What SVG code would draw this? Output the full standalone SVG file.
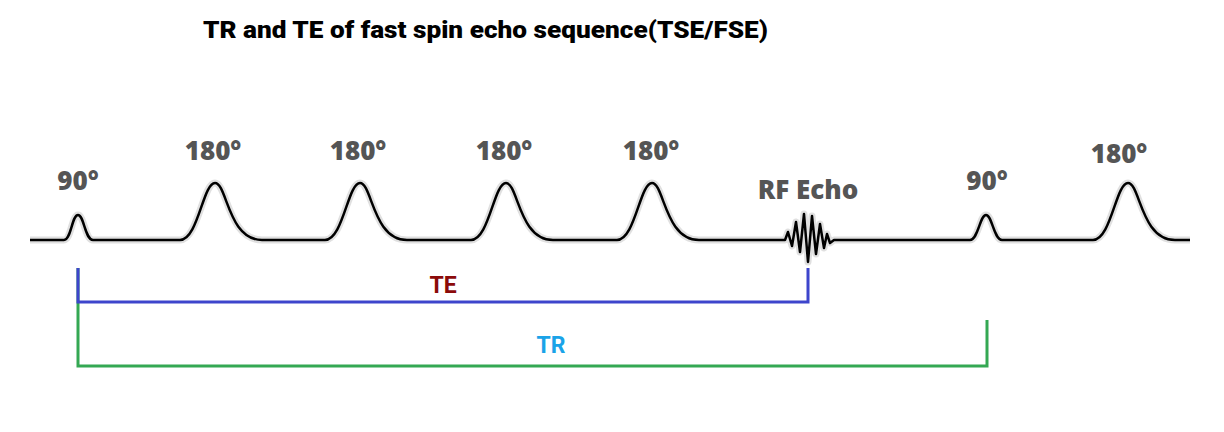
<svg xmlns="http://www.w3.org/2000/svg" width="1224" height="432" viewBox="0 0 1224 432">
<style>
.lbl{font-family:"Open Sans",sans-serif;font-weight:800;font-size:26px;fill:#555;text-anchor:middle}
.sig{fill:none;stroke:#000;stroke-width:2.5;stroke-linejoin:round}
.halo{fill:none;stroke:#ccc;stroke-width:7;stroke-linejoin:round;opacity:.6}
</style>
<rect width="1224" height="432" fill="#fff"/>
<text x="203" y="38" font-family="Roboto, sans-serif" font-weight="900" font-size="23" textLength="565" lengthAdjust="spacingAndGlyphs">TR and TE of fast spin echo sequence(TSE/FSE)</text>
<defs>
<path id="wave" d="M30 240 L64 240 C71 240 72 215 78 215 C84 215 85 240 93 240 L180 240 C198 240 203 183 215 183 C227 183 228 240 262 240 L325 240 C343 240 348 183 360 183 C372 183 373 240 407 240 L471 240 C489 240 494 183 506 183 C518 183 519 240 553 240 L617 240 C635 240 640 183 652 183 C664 183 665 240 699 240 L785 240 L788 232 L792 246 L796 222 L800 252 L804 214 L808 262 L812 216 L816 254 L820 224 L824 248 L827 234 L830 243 L834 240 L970 240 C978 240 980 215 986 215 C992 215 994 240 1002 240 L1093 240 C1111 240 1116 183 1128 183 C1140 183 1141 240 1175 240 L1190 240"/>
</defs>
<g id="signal">
<use href="#wave" class="halo"/>
<use href="#wave" class="sig"/>
</g>
<g id="labels">
<text class="lbl" x="78" y="190">90°</text>
<text class="lbl" x="213" y="160">180°</text>
<text class="lbl" x="358" y="160">180°</text>
<text class="lbl" x="504" y="160">180°</text>
<text class="lbl" x="651" y="160">180°</text>
<text class="lbl" x="808" y="199">RF Echo</text>
<text class="lbl" x="987" y="190">90°</text>
<text class="lbl" x="1119" y="163">180°</text>
</g>
<g id="connectors" fill="none" stroke-width="3">
<path d="M78 268 V366 H987 V320" stroke="#34a853"/>
<path d="M78 268 V302 H808 V268" stroke="#3d45cc"/>
</g>
<text x="443" y="293" font-family="Roboto, sans-serif" font-weight="bold" font-size="23" fill="#8b0a0a" text-anchor="middle">TE</text>
<text x="551" y="353" font-family="Roboto, sans-serif" font-weight="bold" font-size="23" fill="#1aa3e8" text-anchor="middle">TR</text>
</svg>
